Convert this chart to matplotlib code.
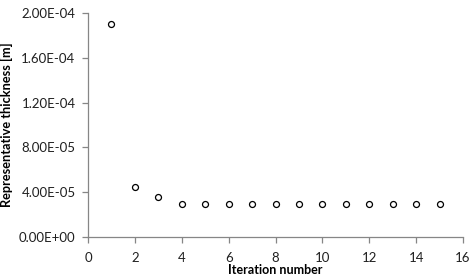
import numpy as np
import matplotlib
matplotlib.use("Agg")
import matplotlib.pyplot as plt
from matplotlib.ticker import FuncFormatter

matplotlib.rcParams['font.family'] = 'Lato'
matplotlib.rcParams['xtick.direction'] = 'out'
matplotlib.rcParams['ytick.direction'] = 'out'

iterations = [1, 2, 3, 4, 5, 6, 7, 8, 9, 10, 11, 12, 13, 14, 15]
thickness = [1.90e-4, 4.5e-5, 3.6e-5, 2.95e-5, 2.95e-5, 2.95e-5, 2.95e-5,
             2.95e-5, 2.95e-5, 2.95e-5, 2.95e-5, 2.95e-5, 2.95e-5,
             2.95e-5, 2.95e-5]
x_ticks = [0, 2, 4, 6, 8, 10, 12, 14, 16]
y_ticks = [0, 4e-5, 8e-5, 1.2e-4, 1.6e-4, 2e-4]


def excel_sci(v, pos):
    s = "%.2E" % v
    mant, exp = s.split("E")
    sign = exp[0]
    return "%sE%s%02d" % (mant, sign, abs(int(exp)))


fig = plt.figure(figsize=(4.74, 2.79), dpi=100)
ax = fig.add_axes([0.1857, 0.1505, 0.7913, 0.8025])
ax.plot(iterations, thickness, linestyle="none", marker="o", markersize=4.3,
        markerfacecolor="white", markeredgecolor="black", markeredgewidth=0.9)

ax.set_xlim(0, 16)
ax.set_ylim(0, 2e-4)
ax.set_xticks(x_ticks)
ax.set_yticks(y_ticks)
ax.yaxis.set_major_formatter(FuncFormatter(excel_sci))

for side in ["top", "right"]:
    ax.spines[side].set_visible(False)
for side in ["left", "bottom"]:
    ax.spines[side].set_color("#868686")
    ax.spines[side].set_linewidth(0.9)
ax.tick_params(axis="both", colors="#868686", labelcolor="#202020",
               labelsize=9.5, length=4, width=0.9)
ax.tick_params(axis="x", pad=7)
ax.tick_params(axis="y", pad=5)

ax.set_ylabel("Representative thickness [m]", fontsize=9.2,
              fontweight="bold", labelpad=4)
ax.set_xlabel("Iteration number", fontsize=9, fontweight="bold",
              labelpad=0)

plt.savefig("out.png", dpi=100)
plt.close()
